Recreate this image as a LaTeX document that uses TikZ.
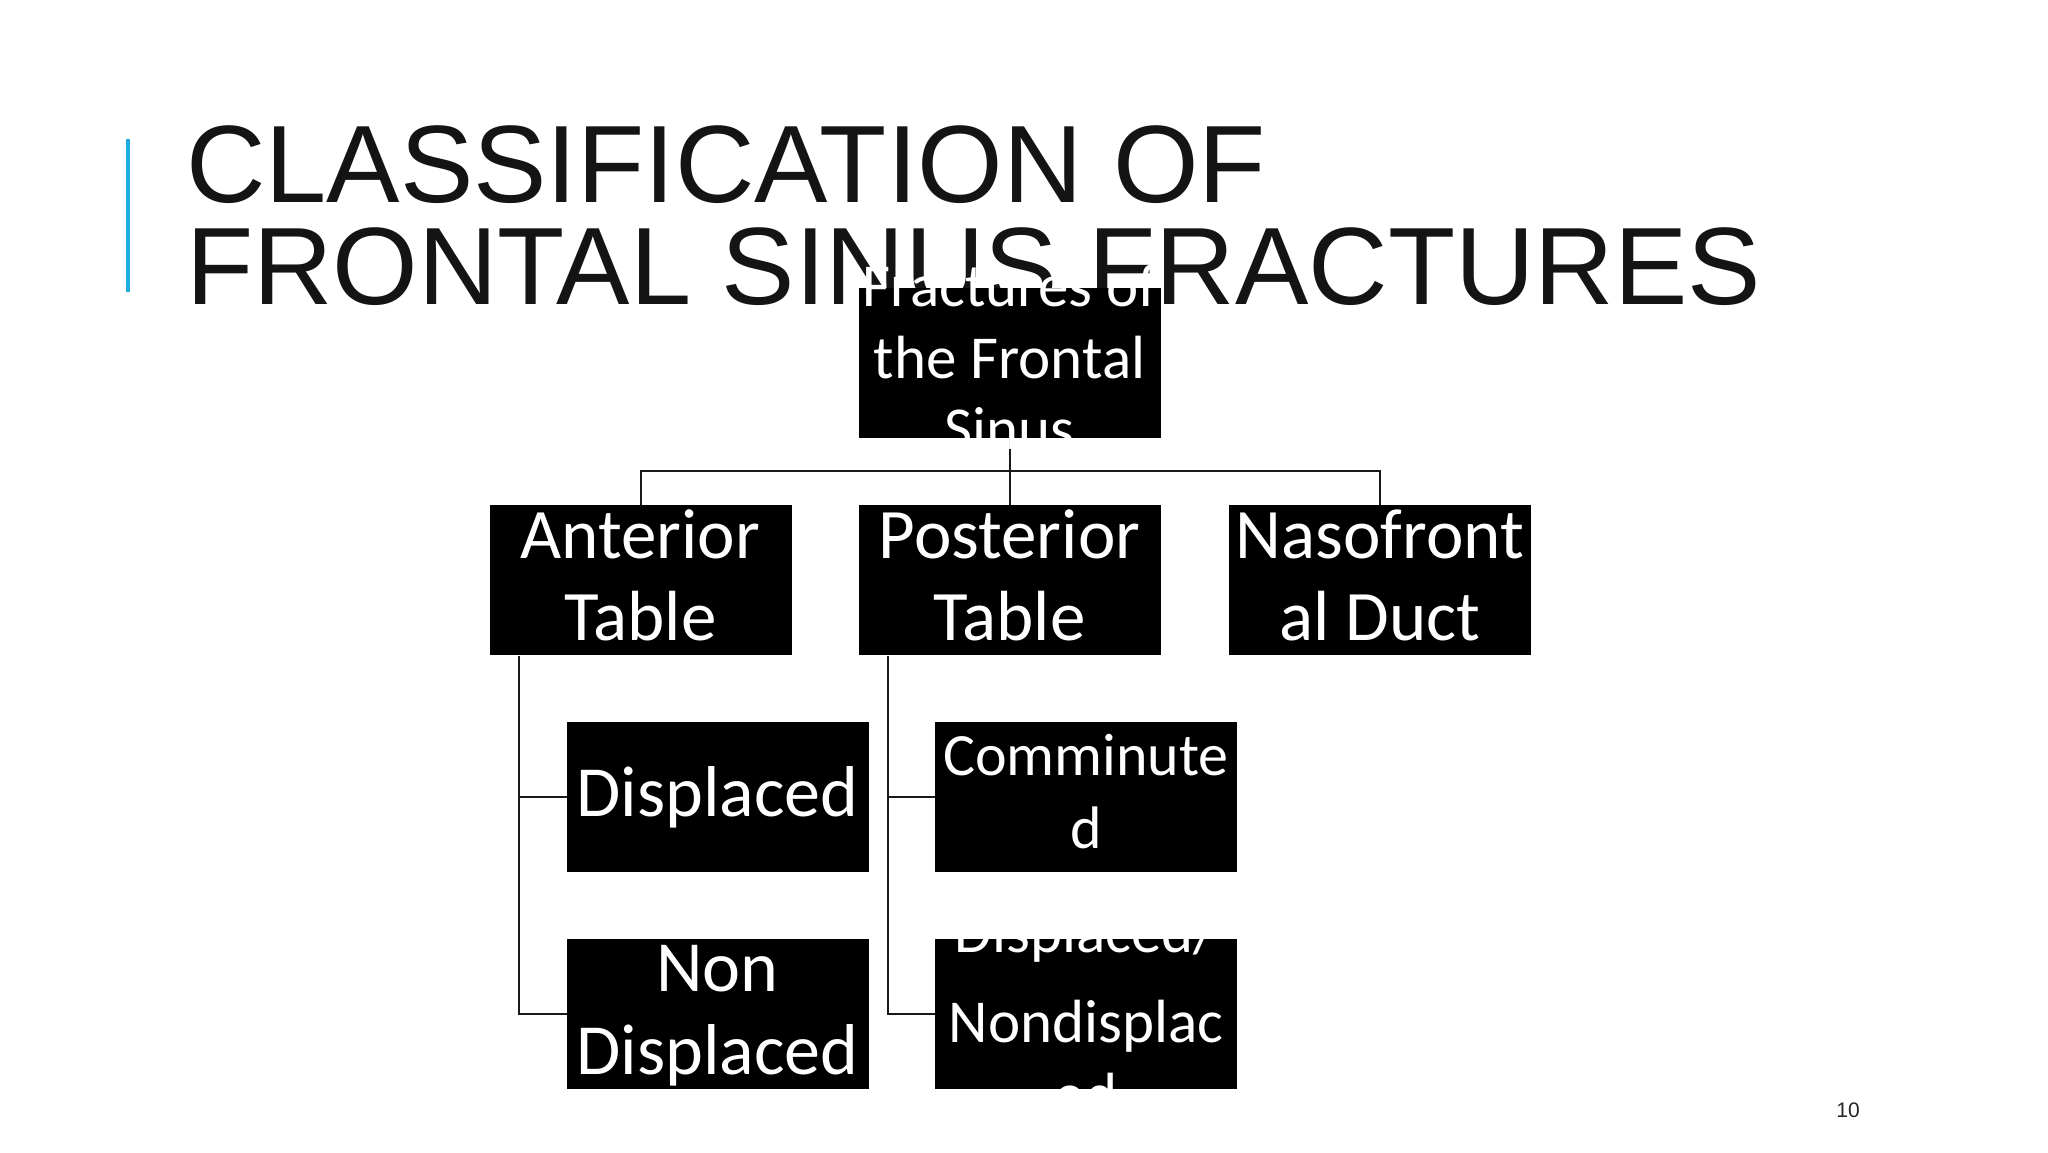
\documentclass[tikz,border=0pt]{standalone}
\usepackage{fontspec}
\setmainfont{Liberation Sans}
\newfontfamily\boxfont{Carlito}
\definecolor{accentblue}{RGB}{32,172,226}
\definecolor{titlegray}{RGB}{20,20,20}
\newcommand\fsz[2]{\fontsize{#1pt}{#2pt}\selectfont}
\newcommand\bstrut{\rule[-0.25em]{0pt}{1.15em}}
\newcommand\tstrut{\rule{0pt}{0.9em}}
\begin{document}
\begin{tikzpicture}[x=1pt,y=-1pt,
  box/.style={fill=black,draw=none,minimum width=302pt,minimum height=150pt,inner sep=0pt,outer sep=0pt},
  lbl/.style={text=white,align=center,inner sep=0pt,outer sep=0pt},
  conn/.style={draw=black!90,line width=2pt}]
\useasboundingbox[fill=white] (0,0) rectangle (2048,1152);
% accent bar
\fill[accentblue] (126,139) rectangle (130,292);
% title
\node[anchor=north west,align=left,inner sep=0pt,text=titlegray,font=\fsz{110}{102}] (title) at (186,103)
  {\tstrut CLASSIFICATION OF\\FRONTAL SINUS FRACTURES};
% page number
\node[font=\fsz{21}{24},text=black!85] (pagenum) at (1848,1110) {10};
% boxes
\node[box] (top) at (1009.5,362.5) {};
\node[box] (ant) at (640.5,579.5) {};
\node[box] (post) at (1009.5,579.5) {};
\node[box] (naso) at (1380,579.5) {};
\node[box] (disp) at (717.5,796.5) {};
\node[box] (comm) at (1086,796.5) {};
\node[box] (nondisp) at (717.5,1013.5) {};
\node[box] (dnd) at (1086,1013.5) {};
% connectors
\coordinate (bar) at (1009.5,471);
\draw[conn] (top.south) -- (post.north);
\draw[conn] (ant.north) |- (bar) -| (naso.north);
\coordinate (trunkA) at (518.5,656);
\coordinate (trunkP) at (888,656);
\draw[conn] (trunkA) |- (nondisp.west);
\draw[conn] (trunkA |- disp.west) -- (disp.west);
\draw[conn] (trunkP) |- (dnd.west);
\draw[conn] (trunkP |- comm.west) -- (comm.west);
% labels
\node[lbl,font=\boxfont\fsz{61}{70}] (toplbl) at (1009.5,358.2)
  {\bstrut Fractures of\\\bstrut the Frontal\\\bstrut Sinus};
\node[lbl,font=\boxfont\fsz{71}{82}] (antlbl) at (640.5,576.9) {\bstrut Anterior\\\bstrut Table};
\node[lbl,font=\boxfont\fsz{71}{82}] (postlbl) at (1009.5,576.9) {\bstrut Posterior\\\bstrut Table};
\node[lbl,font=\boxfont\fsz{71}{82}] (nasolbl) at (1380,576.9) {\bstrut Nasofront\\\bstrut al Duct};
\node[lbl,font=\boxfont\fsz{72}{82}] (displbl) at (717.5,792.6) {\bstrut Displaced};
\node[lbl,font=\boxfont\fsz{60}{73}] (commlbl) at (1086,792) {\bstrut Comminute\\\bstrut d};
\node[lbl,font=\boxfont\fsz{72}{83}] (nondisplbl) at (717.5,1009.1) {\bstrut Non\\\bstrut Displaced};
\node[lbl,font=\boxfont\fsz{61}{73}] (dndlbl) at (1086,1013.7) {\bstrut Displaced/\\[17pt]\bstrut Nondisplac\\\bstrut ed};
\end{tikzpicture}
\end{document}
